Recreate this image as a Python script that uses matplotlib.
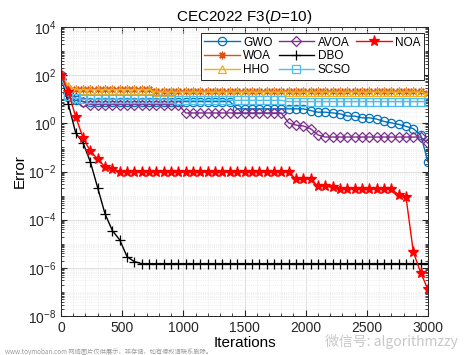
#import packages
import numpy as np
import matplotlib
matplotlib.use("Agg")
import matplotlib.pyplot as plt
from matplotlib.lines import Line2D
from matplotlib.ticker import LogLocator, MultipleLocator, NullFormatter

#convergence data, one value every 60 iterations (51 markers)
iterations = np.arange(0, 3001, 60)

gwo = [100, 12, 9] + [8] * 21 + [4.0] * 10 + [3.4, 2.9, 2.9, 2.7, 2.5, 2.0, 2.0, 1.7, 1.7,
                                              1.5, 1.2, 1.05, 0.9, 0.75, 0.6, 0.33, 0.025]
woa = [100, 30] + [27] * 11 + [22] * 37 + [18]
hho = [100, 35] + [25] * 11 + [20] * 37 + [16]
avoa = [70, 18, 11, 8] + [6.0] * 13 + [2.7] * 14 + [1.05, 0.85, 0.78, 0.6, 0.33] + [0.27] * 14 + [0.15]
dbo = [100, 6.3, 0.40, 0.155, 0.025, 2.1e-3, 1.74e-4, 3.5e-5, 1.45e-5, 2.9e-6, 1.8e-6] + [1.5e-6] * 40
scso = [80, 14, 11] + [10] * 13 + [9] * 15 + [8] * 20
noa = ([100, 20, 1.9, 0.25, 0.07, 0.033, 0.0155, 0.0129, 0.0095] + [0.0093] * 23
       + [0.0049] * 3 + [0.0025, 0.0025, 0.0022] + [0.0019] * 8
       + [0.00107, 0.00089, 4.6e-6, 6.3e-7, 1.26e-7])

names = ["GWO", "WOA", "HHO", "AVOA", "DBO", "SCSO", "NOA"]
series = [gwo, woa, hho, avoa, dbo, scso, noa]

plt.rcParams['font.family'] = ['Liberation Sans', 'DejaVu Sans']
plt.rcParams['mathtext.fontset'] = 'custom'
plt.rcParams['mathtext.rm'] = 'Liberation Sans'
plt.rcParams['mathtext.it'] = 'Liberation Sans:italic'

#line styles, matlab default colours
styles = {
    "GWO": dict(color="#0072BD", marker="o", ms=6, mfc="none"),
    "WOA": dict(color="#D95319", marker=(8, 2, 0), ms=5.5),
    "HHO": dict(color="#EDB120", marker="^", ms=6, mfc="none"),
    "AVOA": dict(color="#7E2F8E", marker="D", ms=5, mfc="none"),
    "DBO": dict(color="black", marker="+", ms=7),
    "SCSO": dict(color="#4DBEEE", marker="s", ms=5.5, mfc="none"),
    "NOA": dict(color="red", marker="*", ms=8, mfc="red"),
}

fig = plt.figure(figsize=(4.74, 3.55), dpi=100)
ax = fig.add_axes([61 / 474, 1 - 316 / 355, 367 / 474, 289 / 355])

handles = []
for name, vals in zip(names, series):
    h, = ax.semilogy(iterations, vals, lw=1.0, mew=0.9, label=name, **styles[name])
    handles.append(h)

ax.set_xlim(0, 3000)
ax.set_ylim(1e-8, 1e4)
ax.xaxis.set_major_locator(MultipleLocator(500))
ax.xaxis.set_minor_locator(MultipleLocator(100))
ax.set_yticks([1e-8, 1e-6, 1e-4, 1e-2, 1e0, 1e2, 1e4])
ax.yaxis.set_minor_locator(LogLocator(base=10, subs=np.arange(1, 10), numticks=40))
ax.yaxis.set_minor_formatter(NullFormatter())

ax.grid(True, which="major", color="#dcdcdc", lw=0.6)
ax.grid(True, which="minor", color="#e4e4e4", lw=0.5, ls=":")
ax.set_axisbelow(True)
ax.tick_params(which="both", direction="in", top=True, right=True, colors="#262626",
               labelsize=10)
ax.tick_params(which="major", length=4)
ax.tick_params(which="minor", length=2)
for s in ax.spines.values():
    s.set_color("#262626")
    s.set_linewidth(0.7)

ax.set_title(r"CEC2022 F3($\mathit{D}$=$\mathit{10}$)", fontsize=11, pad=4)
ax.set_xlabel("Iterations", fontsize=11, labelpad=1)
ax.set_ylabel("Error", fontsize=11, labelpad=1)

#blank entry so the columns come out 3, 3, 1 like the original
blank = Line2D([], [], color="none")
leg = ax.legend(handles + [blank], names + [""], ncol=3, loc="upper left",
                bbox_to_anchor=(0.381, 0.979), borderaxespad=0,
                fontsize=8.5, handlelength=3.0, columnspacing=0.5, handletextpad=0.3,
                labelspacing=0.15, fancybox=False, framealpha=1, edgecolor="#262626",
                borderpad=0.3)
leg.get_frame().set_linewidth(0.7)

#watermarks from the source image
fig.text(0.685, 0.025, "微信号: algorithmzzy", fontsize=10, color="#c8c8c8",
         family=["Noto Sans CJK SC", "DejaVu Sans"])
fig.text(0.01, 0.004, "www.toymoban.com 网络图片仅供展示，非存储，如有侵权请联系删除。",
         fontsize=4.5, color="#9a9a9a", family=["Noto Sans CJK SC", "DejaVu Sans"])

fig.savefig("out.png", dpi=100)
